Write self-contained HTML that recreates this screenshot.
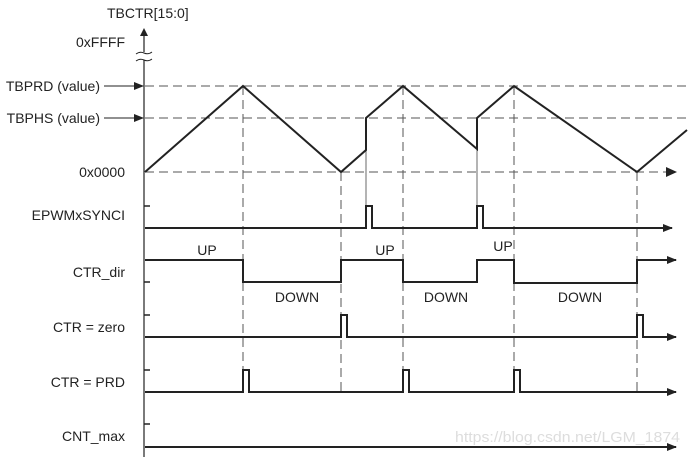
<!DOCTYPE html>
<html><head><meta charset="utf-8"><style>
html,body{margin:0;padding:0;background:#fff;}
svg{display:block;}
text{font-family:"Liberation Sans",sans-serif;font-size:14px;fill:#222;}
</style></head><body>
<svg width="689" height="457" viewBox="0 0 689 457" xmlns="http://www.w3.org/2000/svg">
<defs>
<marker id="a" markerWidth="10" markerHeight="10" refX="9" refY="5" orient="auto" markerUnits="userSpaceOnUse">
<path d="M0,1 L10,5 L0,9 Z" fill="#222"/></marker>
</defs>
<line x1="144" y1="457" x2="144" y2="36" stroke="#222" stroke-width="1.2"/>
<path d="M140,28 L148,28 L144,36 Z" transform="rotate(180 144 32)" fill="#222"/>
<rect x="136" y="52" width="16" height="8" fill="#fff"/>
<path d="M136,54 Q140,51 144,53 Q148,55 152,52 M136,61 Q140,58 144,60 Q148,62 152,59" stroke="#222" fill="none" stroke-width="1"/>
<g stroke="#555" stroke-width="1" stroke-dasharray="9,5" fill="none">
<line x1="145" y1="86" x2="689" y2="86"/>
<line x1="145" y1="118" x2="689" y2="118"/>
<line x1="145" y1="172" x2="668" y2="172"/>
<line x1="243" y1="86" x2="243" y2="392"/>
<line x1="341" y1="172" x2="341" y2="392"/>
<line x1="403" y1="86" x2="403" y2="392"/>
<line x1="514" y1="86" x2="514" y2="392"/>
<line x1="637" y1="172" x2="637" y2="392"/>
</g>
<path d="M666,167 L677,172 L666,177 Z" fill="#222"/>
<line x1="366" y1="150" x2="366" y2="228" stroke="#444" stroke-width="0.8"/>
<line x1="477" y1="149" x2="477" y2="228" stroke="#444" stroke-width="0.8"/>
<polyline points="145,172 243,86 341,172 366,150 366,118 403,86 477,149 477,118 514,86 637,172 687,130" fill="none" stroke="#222" stroke-width="2"/>
<line x1="104" y1="86" x2="143" y2="86" stroke="#222" marker-end="url(#a)"/>
<line x1="104" y1="118" x2="143" y2="118" stroke="#222" marker-end="url(#a)"/>
<g stroke="#222" stroke-width="1.5">
<line x1="144" y1="206" x2="150" y2="206"/>
<line x1="144" y1="282" x2="150" y2="282"/>
<line x1="144" y1="315" x2="150" y2="315"/>
<line x1="144" y1="370" x2="150" y2="370"/>
<line x1="144" y1="424" x2="150" y2="424"/>
</g>
<g fill="none" stroke="#222" stroke-width="2">
<polyline points="145,228 366,228 366,206 372,206 372,228 472,228 477,228 477,206 483,206 483,228 672,228" marker-end="url(#a)"/>
<polyline points="145,260 243,260 243,282 341,282 341,260 403,260 403,282 477,282 477,260 514,260 514,283 637,283 637,260 676,260" marker-end="url(#a)"/>
<polyline points="145,337 341,337 341,315 347,315 347,337 637,337 637,315 643,315 643,337 676,337" marker-end="url(#a)"/>
<polyline points="145,392 243,392 243,370 249,370 249,392 403,392 403,370 409,370 409,392 514,392 514,370 520,370 520,392 676,392" marker-end="url(#a)"/>
<polyline points="145,447 676,447" marker-end="url(#a)"/>
</g>
<text x="107" y="18">TBCTR[15:0]</text>
<text x="125" y="47" text-anchor="end">0xFFFF</text>
<text x="100" y="91" text-anchor="end">TBPRD (value)</text>
<text x="100" y="123" text-anchor="end">TBPHS (value)</text>
<text x="125" y="177" text-anchor="end">0x0000</text>
<text x="125" y="220" text-anchor="end">EPWMxSYNCI</text>
<text x="125" y="277" text-anchor="end">CTR_dir</text>
<text x="125" y="332" text-anchor="end">CTR = zero</text>
<text x="125" y="387" text-anchor="end">CTR = PRD</text>
<text x="125" y="441" text-anchor="end">CNT_max</text>
<text x="207" y="255" text-anchor="middle">UP</text>
<text x="385" y="255" text-anchor="middle">UP</text>
<text x="503" y="251" text-anchor="middle">UP</text>
<text x="297" y="302" text-anchor="middle">DOWN</text>
<text x="446" y="302" text-anchor="middle">DOWN</text>
<text x="580" y="302" text-anchor="middle">DOWN</text>
<text x="455" y="442" textLength="225" lengthAdjust="spacingAndGlyphs" style="fill:#ddd;font-size:15px">https://blog.csdn.net/LGM_1874</text>
</svg>
</body></html>
